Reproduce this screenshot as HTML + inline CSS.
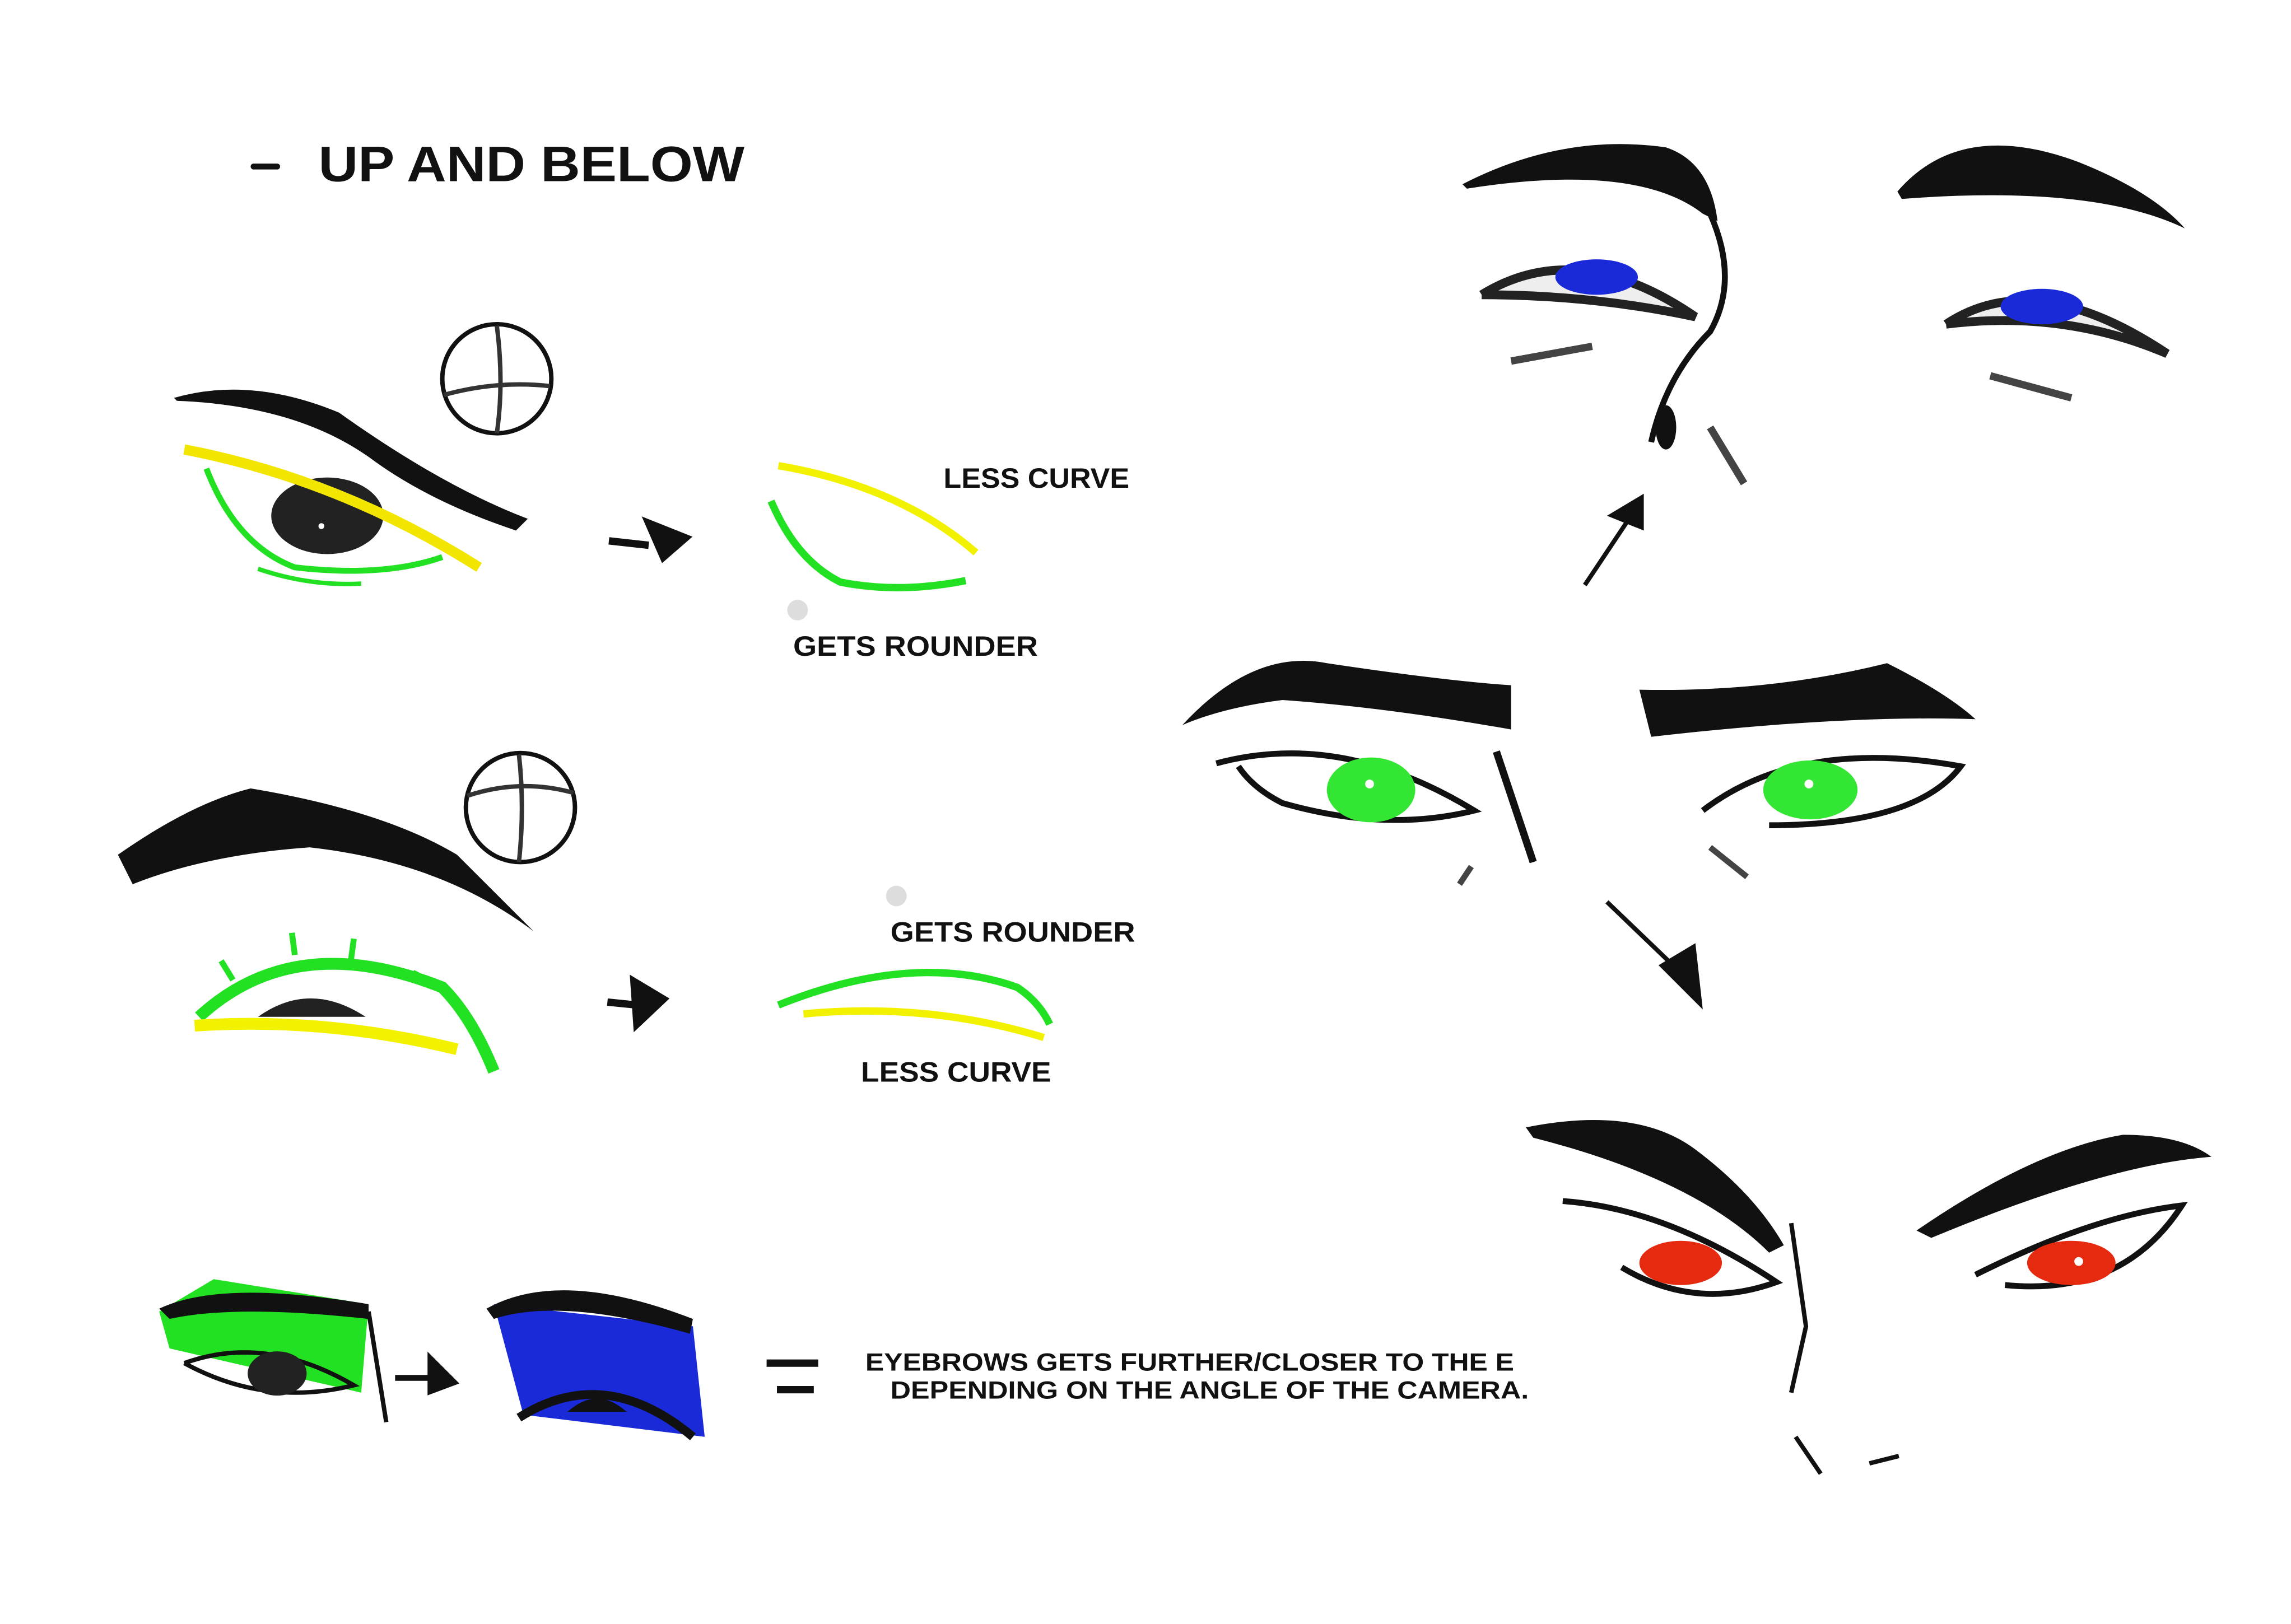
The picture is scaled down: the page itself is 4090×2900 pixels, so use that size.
<!DOCTYPE html>
<html><head><meta charset="utf-8"><style>
html,body{margin:0;padding:0;background:#fff;}
svg{display:block;}
text{font-family:"Liberation Sans",sans-serif;font-weight:bold;fill:#111;}
</style></head><body>
<svg width="4090" height="2900" viewBox="0 0 1554 1102" preserveAspectRatio="none" xmlns="http://www.w3.org/2000/svg">
<rect width="1554" height="1102" fill="#fff"/>
<path d="M172 113 L188 113" stroke="#111" stroke-width="4" stroke-linecap="round"/>
<text x="216" y="123" font-size="34" textLength="289" lengthAdjust="spacingAndGlyphs">UP AND BELOW</text>

<circle cx="337" cy="257" r="37" fill="none" stroke="#111" stroke-width="3"/>
<path d="M301 268 Q337 258 373 262 M337 221 Q342 260 337 294" stroke="#333" stroke-width="3" fill="none"/>
<path d="M118 270 Q170 255 230 280 Q300 330 358 352 L350 360 Q290 340 250 310 Q200 275 120 272Z" fill="#111"/>
<ellipse cx="222" cy="350" rx="38" ry="26" fill="#222"/>
<circle cx="218" cy="357" r="2" fill="#fff"/>
<path d="M125 305 Q230 325 325 385" stroke="#f2e600" stroke-width="7" fill="none"/>
<path d="M140 318 Q160 370 200 385 Q260 392 300 378" stroke="#22e022" stroke-width="4" fill="none"/>
<path d="M175 386 Q210 398 245 396" stroke="#22e022" stroke-width="3" fill="none"/>
<path d="M413 367 L440 370 M440 355 L465 365 L450 378Z" stroke="#111" stroke-width="5" fill="#111"/>
<path d="M528 316 Q610 330 662 375" stroke="#f2f200" stroke-width="5" fill="none"/>
<path d="M523 340 Q540 380 570 395 Q610 403 655 394" stroke="#22e022" stroke-width="5" fill="none"/>
<circle cx="541" cy="414" r="7" fill="#ddd"/>
<text x="640" y="331" font-size="19" textLength="126" lengthAdjust="spacingAndGlyphs">LESS CURVE</text>
<text x="538" y="445" font-size="19" textLength="166" lengthAdjust="spacingAndGlyphs">GETS ROUNDER</text>

<circle cx="353" cy="548" r="37" fill="none" stroke="#111" stroke-width="3"/>
<path d="M317 540 Q353 528 389 538 M352 512 Q356 548 352 585" stroke="#333" stroke-width="3" fill="none"/>
<path d="M80 580 Q130 545 170 535 Q260 550 310 580 L362 632 Q300 585 210 575 Q140 580 90 600Z" fill="#111"/>
<path d="M135 690 Q200 630 300 670 Q320 690 335 727" stroke="#22e022" stroke-width="8" fill="none"/>
<path d="M175 690 Q210 665 248 690Z" fill="#222"/>
<path d="M132 696 Q220 690 310 712" stroke="#f2f200" stroke-width="8" fill="none"/>
<path d="M198 633 L200 648 M240 637 L238 652 M150 652 L158 665 M280 660 L292 666" stroke="#22e022" stroke-width="4"/>
<path d="M412 680 L432 682 M430 666 L450 678 L432 695Z" stroke="#111" stroke-width="5" fill="#111"/>
<path d="M528 682 Q620 645 690 670 Q705 680 712 695" stroke="#22e022" stroke-width="5" fill="none"/>
<path d="M545 688 Q630 680 708 704" stroke="#f2f200" stroke-width="5" fill="none"/>
<circle cx="608" cy="608" r="7" fill="#ddd"/>
<text x="604" y="639" font-size="19" textLength="166" lengthAdjust="spacingAndGlyphs">GETS ROUNDER</text>
<text x="584" y="734" font-size="19" textLength="129" lengthAdjust="spacingAndGlyphs">LESS CURVE</text>

<path d="M108 890 L145 868 L250 885 L245 945 L115 915Z" fill="#22e022"/>
<path d="M108 888 Q150 868 250 885 L250 895 Q160 885 115 895Z" fill="#111"/>
<path d="M125 925 Q180 905 240 940 Q180 955 125 925" stroke="#111" stroke-width="3" fill="none"/>
<ellipse cx="188" cy="932" rx="20" ry="15" fill="#222"/>
<path d="M250 890 L262 965" stroke="#111" stroke-width="3"/>
<path d="M268 935 L295 935 M292 922 L308 938 L292 944Z" stroke="#111" stroke-width="4" fill="#111"/>
<path d="M335 885 L470 900 L478 975 L355 960Z" fill="#1a2ad8"/>
<path d="M330 888 Q380 860 470 895 L468 905 Q380 880 335 895Z" fill="#111"/>
<path d="M352 962 Q410 925 470 975" stroke="#111" stroke-width="6" fill="none"/>
<path d="M385 958 Q405 940 425 958Z" fill="#111"/>
<path d="M520 925 L555 925 M527 943 L552 943" stroke="#111" stroke-width="5"/>
<text x="587" y="930" font-size="17" textLength="440" lengthAdjust="spacingAndGlyphs">EYEBROWS GETS FURTHER/CLOSER TO THE E</text>
<text x="604" y="949" font-size="17" textLength="433" lengthAdjust="spacingAndGlyphs">DEPENDING ON THE ANGLE OF THE CAMERA.</text>

<path d="M992 125 Q1060 90 1130 100 Q1160 110 1165 150 L1155 145 Q1110 110 995 128Z" fill="#111"/>
<path d="M1287 130 Q1330 80 1410 110 Q1460 130 1482 155 Q1420 125 1290 135Z" fill="#111"/>
<path d="M1005 200 Q1070 160 1150 215 Q1080 200 1005 200" stroke="#222" stroke-width="6" fill="#eee"/>
<ellipse cx="1083" cy="188" rx="28" ry="12" fill="#1a2ad8"/>
<path d="M1320 220 Q1380 180 1470 240 Q1400 210 1320 220" stroke="#222" stroke-width="6" fill="#eee"/>
<ellipse cx="1385" cy="208" rx="28" ry="12" fill="#1a2ad8"/>
<path d="M1160 145 Q1180 190 1160 225 Q1130 255 1120 300" stroke="#111" stroke-width="4" fill="none"/>
<ellipse cx="1130" cy="290" rx="7" ry="15" fill="#111"/>
<path d="M1160 290 L1183 328 M1025 245 L1080 235 M1350 255 L1405 270" stroke="#444" stroke-width="5"/>
<path d="M1075 397 L1105 352" stroke="#111" stroke-width="3"/>
<path d="M1090 350 L1115 335 L1115 360Z" fill="#111"/>

<path d="M802 492 Q850 440 900 450 Q980 462 1025 465 L1025 495 Q940 480 870 475 Q830 480 802 492Z" fill="#111"/>
<path d="M1112 468 Q1200 470 1280 450 Q1320 470 1340 488 Q1250 485 1120 500Z" fill="#111"/>
<path d="M825 518 Q910 495 1000 550 Q940 565 870 545 Q850 535 840 520" stroke="#111" stroke-width="4" fill="none"/>
<ellipse cx="930" cy="536" rx="30" ry="22" fill="#33e633"/>
<circle cx="929" cy="532" r="3" fill="#fff"/>
<path d="M1155 550 Q1220 500 1330 520 Q1300 560 1200 560" stroke="#111" stroke-width="4" fill="none"/>
<ellipse cx="1228" cy="536" rx="32" ry="20" fill="#33e633"/>
<circle cx="1227" cy="532" r="3" fill="#fff"/>
<path d="M1015 510 L1040 585" stroke="#111" stroke-width="5"/>
<path d="M1160 575 L1185 595 M990 600 L998 588" stroke="#444" stroke-width="4"/>
<path d="M1090 612 L1140 660" stroke="#111" stroke-width="3"/>
<path d="M1125 655 L1150 640 L1155 685Z" fill="#111"/>

<path d="M1035 765 Q1110 750 1150 780 Q1190 810 1210 845 L1200 850 Q1150 800 1040 772Z" fill="#111"/>
<path d="M1300 835 Q1380 780 1440 770 Q1480 770 1500 785 Q1430 790 1310 840Z" fill="#111"/>
<path d="M1060 815 Q1130 820 1205 870 Q1150 890 1100 860" stroke="#111" stroke-width="4" fill="none"/>
<ellipse cx="1140" cy="857" rx="28" ry="15" fill="#e62a10"/>
<path d="M1340 865 Q1420 825 1480 818 Q1440 880 1360 872" stroke="#111" stroke-width="4" fill="none"/>
<ellipse cx="1405" cy="857" rx="30" ry="15" fill="#e62a10"/>
<circle cx="1410" cy="856" r="3" fill="#fff"/>
<path d="M1215 830 L1225 900 L1215 945" stroke="#111" stroke-width="3" fill="none"/>
<path d="M1218 975 L1235 1000 M1268 993 L1288 988" stroke="#111" stroke-width="3"/>
</svg>
</body></html>
